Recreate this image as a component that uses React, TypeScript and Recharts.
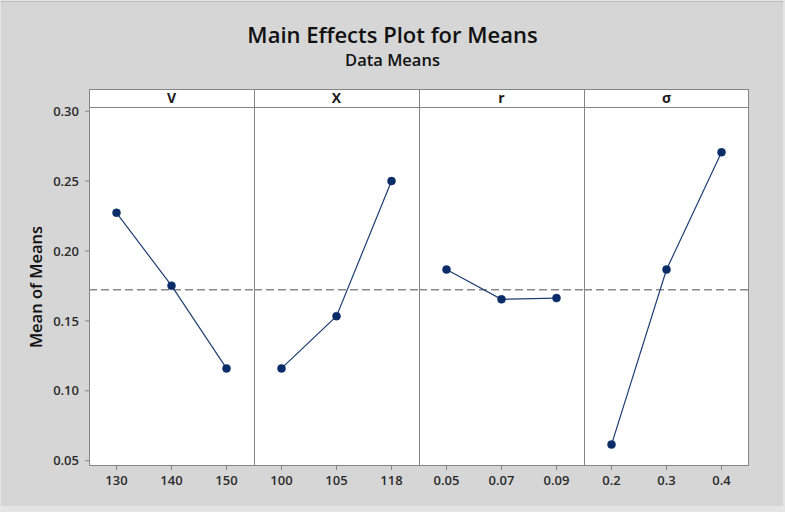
import React from "react";
import { LineChart, Line, XAxis, YAxis, ReferenceLine } from "recharts";

// factor names and their levels
const factors = ["V", "X", "r", "σ"];
const vLevels = ["130", "140", "150"];
const xLevels = ["100", "105", "118"];
const rLevels = ["0.05", "0.07", "0.09"];
const sLevels = ["0.2", "0.3", "0.4"];

// mean of means at each level
const vMeans = [0.2273, 0.1752, 0.116];
const xMeans = [0.116, 0.1534, 0.25];
const rMeans = [0.1867, 0.1654, 0.1663];
const sMeans = [0.0615, 0.1867, 0.2706];

const grandMean = 0.1723;
const yTicks = [0.05, 0.1, 0.15, 0.2, 0.25, 0.3];
const yDomain = [0.0462, 0.303];

const levels = [vLevels, xLevels, rLevels, sLevels];
const means = [vMeans, xMeans, rMeans, sMeans];

const FONT = "'Open Sans', 'Noto Sans', sans-serif";
const FRAME = "#858585";
const LINE = "#1f3f73";
const DOT = "#0b2c68";

const LEFT = 89;
const PANEL_W = 165;
const STRIP_TOP = 89;
const PLOT_TOP = 107;
const PLOT_H = 359;
const AXIS_H = 30;
const Y_AXIS_W = 60;
const PAD_TOP = 12;

const tickStyle = { fontSize: 13, fontWeight: 600, fill: "#2b2b2b", fontFamily: FONT };

function Panel({ index }: { index: number }) {
  const lv = levels[index];
  const rows = means[index].map((m, i) => ({ idx: i, mean: m }));
  const first = index === 0;
  const left = LEFT + index * PANEL_W - (first ? Y_AXIS_W : 0);
  const width = PANEL_W + (first ? Y_AXIS_W : 0);
  return (
    <div style={{ position: "absolute", left, top: PLOT_TOP - PAD_TOP }}>
      <LineChart
        width={width}
        height={PLOT_H + AXIS_H + PAD_TOP}
        data={rows}
        margin={{ top: PAD_TOP, right: 0, bottom: 0, left: 0 }}
      >
        <XAxis
          dataKey="idx"
          type="number"
          domain={[-0.5, 2.5]}
          ticks={[0, 1, 2]}
          tickFormatter={(v) => lv[v]}
          height={AXIS_H}
          axisLine={false}
          tickLine={{ stroke: FRAME }}
          tickSize={4}
          tickMargin={6}
          tick={tickStyle}
          interval={0}
        />
        <YAxis
          hide={!first}
          width={Y_AXIS_W}
          type="number"
          domain={yDomain}
          ticks={yTicks}
          allowDataOverflow
          tickFormatter={(v) => v.toFixed(2)}
          axisLine={false}
          tickLine={{ stroke: FRAME }}
          tickSize={4}
          tickMargin={6}
          tick={tickStyle}
          interval={0}
        />
        <ReferenceLine
          y={grandMean}
          stroke="#8a8a8a"
          strokeWidth={1.5}
          strokeDasharray="8 4"
        />
        <Line
          dataKey="mean"
          stroke={LINE}
          strokeWidth={1.2}
          dot={{ r: 4, fill: DOT, stroke: DOT, strokeWidth: 0.5 }}
          isAnimationActive={false}
        />
      </LineChart>
    </div>
  );
}

export default function App() {
  const totalW = PANEL_W * 4;
  return (
    <div
      style={{
        position: "absolute",
        left: 0,
        top: 0,
        width: 785,
        height: 512,
        background: "#e4e4e4",
        fontFamily: FONT,
        overflow: "hidden",
      }}
    >
      <div
        style={{
          position: "absolute",
          left: 1,
          top: 1,
          width: 782,
          height: 504,
          background: "#d6d6d6",
          borderTop: "1px solid #bdbdbd",
        }}
      />
      <div
        style={{
          position: "absolute",
          left: 0,
          width: 785,
          top: 21,
          textAlign: "center",
          fontSize: 22,
          fontWeight: 600,
          color: "#111",
          lineHeight: "26px",
        }}
      >
        Main Effects Plot for Means
      </div>
      <div
        style={{
          position: "absolute",
          left: 0,
          width: 785,
          top: 50,
          textAlign: "center",
          fontSize: 16.5,
          fontWeight: 600,
          color: "#111",
          lineHeight: "20px",
        }}
      >
        Data Means
      </div>
      {/* white frame with header strip */}
      <div
        style={{
          position: "absolute",
          left: LEFT,
          top: STRIP_TOP,
          width: totalW,
          height: PLOT_TOP + PLOT_H - STRIP_TOP,
          background: "#fff",
          border: `1px solid ${FRAME}`,
          boxSizing: "border-box",
        }}
      />
      <div
        style={{
          position: "absolute",
          left: LEFT,
          top: PLOT_TOP,
          width: totalW,
          height: 1,
          background: FRAME,
        }}
      />
      {[1, 2, 3].map((i) => (
        <div
          key={i}
          style={{
            position: "absolute",
            left: LEFT + i * PANEL_W,
            top: STRIP_TOP,
            width: 1,
            height: PLOT_TOP + PLOT_H - STRIP_TOP,
            background: FRAME,
          }}
        />
      ))}
      {factors.map((f, i) => (
        <div
          key={f}
          style={{
            position: "absolute",
            left: LEFT + i * PANEL_W,
            top: STRIP_TOP,
            width: PANEL_W,
            height: PLOT_TOP - STRIP_TOP,
            lineHeight: `${PLOT_TOP - STRIP_TOP}px`,
            textAlign: "center",
            fontSize: 14,
            fontWeight: 700,
            color: "#1a1a1a",
          }}
        >
          {f}
        </div>
      ))}
      {[0, 1, 2, 3].map((i) => (
        <Panel key={i} index={i} />
      ))}
      <div
        style={{
          position: "absolute",
          left: 35,
          top: PLOT_TOP + PLOT_H / 2,
          transform: "translate(-50%, -50%) rotate(-90deg)",
          fontSize: 16.5,
          fontWeight: 600,
          color: "#111",
          whiteSpace: "nowrap",
        }}
      >
        Mean of Means
      </div>
    </div>
  );
}
